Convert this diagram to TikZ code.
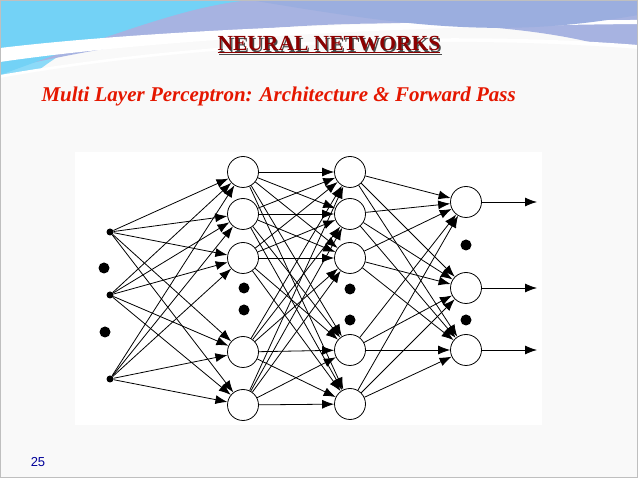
\documentclass[tikz,border=0pt]{standalone}
\usepackage{fontspec}
\setmainfont{Liberation Serif}
\newfontfamily\sansf{Liberation Sans}
\usetikzlibrary{arrows.meta}
\begin{document}
\begin{tikzpicture}[x=1pt,y=-1pt,
  neuron/.style={circle,draw,line width=0.8pt,minimum size=31pt,inner sep=0,fill=white},
  inp/.style={circle,fill=black,minimum size=7pt,inner sep=0},
  bigdot/.style={circle,fill=black,minimum size=11pt,inner sep=0},
  conn/.style={-{Latex[length=12pt,width=9pt]},line width=0.8pt}]
\useasboundingbox (0,0) rectangle (638,478);
\fill[white!95!gray] (0,0) rectangle (638,478);
% top waves
\fill[cyan!45!white] (0,0) -- (230,0) .. controls (150,20) and (60,30) .. (0,110) -- cycle;
\fill[cyan!35!blue!35!white] (0,0) -- (638,0) -- (638,58) .. controls (560,20) and (300,0) .. (0,70) -- cycle;
\fill[cyan!55!white] (0,0) -- (250,0) .. controls (200,5) and (150,20) .. (0,75) -- cycle;
\fill[white] (0,48) .. controls (150,30) and (400,20) .. (638,20) -- (638,24) .. controls (400,26) and (150,40) .. (0,62) -- cycle;
\fill[cyan!40!blue!40!white] (250,0) -- (638,0) -- (638,15) .. controls (500,40) and (400,25) .. (250,0) -- cycle;
\fill[white] (0,75) .. controls (200,40) and (450,30) .. (638,45) -- (638,478) -- (0,478) -- cycle;
\fill[white!95!gray] (0,78) .. controls (200,42) and (450,34) .. (638,49) -- (638,478) -- (0,478) -- cycle;
\draw[gray!50] (0.5,0.5) rectangle (637.5,477.5);
% titles
\node[text=black!70, font=\bfseries\fontsize{21.5}{24}\selectfont] at (330.5,46.5) {\underline{NEURAL NETWORKS}};
\node[text=red!55!black, font=\bfseries\fontsize{21.5}{24}\selectfont] (title) at (329,45) {\underline{NEURAL NETWORKS}};
\node[anchor=west,text=red!80!orange!90!black, font=\bfseries\itshape\fontsize{21}{24}\selectfont] (sub) at (38,96) {Multi Layer Perceptron: Architecture \& Forward Pass};
\node[text=blue!60!black, font=\sansf\fontsize{13}{14}\selectfont] (pg) at (38,462) {25};
% diagram box
\fill[white] (75,152) rectangle (542,425);
% nodes
\node[inp] (i1) at (110,232) {};
\node[inp] (i2) at (110,295) {};
\node[inp] (i3) at (110,379) {};
\foreach \y [count=\k] in {172,214,258,352,405} \node[neuron] (a\k) at (243,\y) {};
\foreach \y [count=\k] in {172,214,258,350,404} \node[neuron] (b\k) at (350,\y) {};
\foreach \y [count=\k] in {202,288,350} \node[neuron] (c\k) at (466,\y) {};
\foreach \p [count=\k] in {{104,268},{105,332},{244,288},{244,310},{350,289},{350,320},{466,245},{466,320}} \node[bigdot] (d\k) at (\p) {};
% connections
\foreach \i in {1,2,3} \foreach \j in {1,...,5} \draw[conn] (i\i) -- (a\j);
\foreach \i in {1,...,5} \foreach \j in {1,...,5} \draw[conn] (a\i) -- (b\j);
\foreach \i in {1,...,5} \foreach \j in {1,2,3} \draw[conn] (b\i) -- (c\j);
\coordinate (o1) at (537,210); \coordinate (o2) at (537,295); \coordinate (o3) at (537,352);
\foreach \j in {1,2,3} \draw[conn] (c\j) -- (c\j -| o\j);
\end{tikzpicture}
\end{document}
